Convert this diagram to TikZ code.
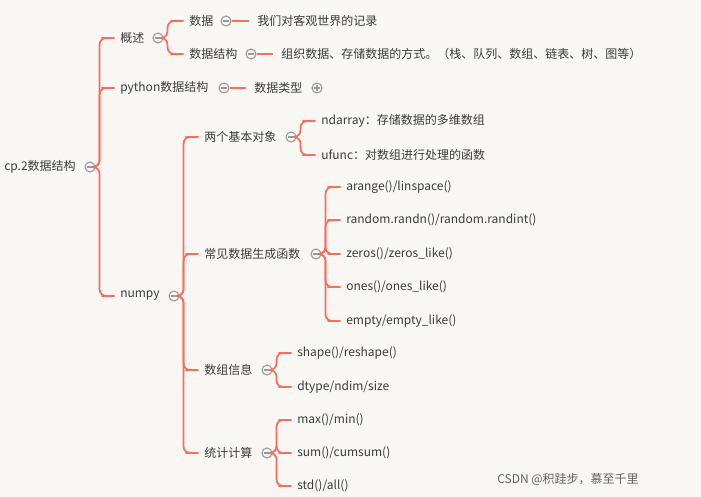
\documentclass[tikz,border=0pt]{standalone}
\usepackage{fontspec}
\setmainfont{Noto Sans CJK SC}
\usetikzlibrary{positioning}
\definecolor{bgpaper}{HTML}{F8F7F4}
\definecolor{branch}{HTML}{F86E5A}
\definecolor{ink}{HTML}{3C3C3C}
\definecolor{knob}{HTML}{9A9A9A}
\begin{document}
\begin{tikzpicture}[x=0.75pt,y=-0.75pt,
    topic/.style={anchor=west,inner sep=0pt,text=ink,font=\fontsize{9}{10}\selectfont},
    fold/.style={circle,draw=knob,line width=0.8pt,minimum size=7.5pt,inner sep=0pt,
      path picture={\draw[knob,line width=0.8pt] ([xshift=-2.2pt]path picture bounding box.center)--([xshift=2.2pt]path picture bounding box.center);}},
    unfold/.style={fold,path picture={\draw[knob,line width=0.8pt] ([xshift=-2.2pt]path picture bounding box.center)--([xshift=2.2pt]path picture bounding box.center)
      ([yshift=-2.2pt]path picture bounding box.center)--([yshift=2.2pt]path picture bounding box.center);}},
    link/.style={draw=branch,line width=1.3pt,rounded corners=5pt}]
  \fill[bgpaper] (0,0) rectangle (701,497);
  \useasboundingbox (0,0) rectangle (701,497);

  % root
  \node[topic] (root) at (4,167) {cp.2数据结构};
  \node[fold] (rootk) at (90,167) {};

  % first level
  \node[topic] (gaishu) at (120,38) {概述};
  \node[fold] (gaishuk) at (158,38) {};
  \node[topic] (pyds) at (120,88) {python数据结构};
  \node[fold] (pydsk) at (224,88) {};
  \node[topic] (numpy) at (120,296) {numpy};
  \node[fold] (numpyk) at (174,296) {};

  % 概述
  \node[topic] (shuju) at (189,21) {数据};
  \node[fold] (shujuk) at (226,21) {};
  \node[topic] (shujudef) at (257,21) {我们对客观世界的记录};
  \node[topic] (jiegou) at (189,54) {数据结构};
  \node[fold] (jiegouk) at (251,54) {};
  \node[topic] (jiegoudef) at (281,54) {组织数据、存储数据的方式。（栈、队列、数组、链表、树、图等）};

  % python
  \node[topic] (leixing) at (254,88) {数据类型};
  \node[unfold] (leixingk) at (317,88) {};

  % numpy
  \node[topic] (duixiang) at (204,137) {两个基本对象};
  \node[fold] (duixiangk) at (291,137) {};
  \node[topic] (ndarray) at (321,121) {ndarray：存储数据的多维数组};
  \node[topic] (ufunc) at (321,155) {ufunc：对数组进行处理的函数};

  \node[topic] (shengcheng) at (204,254) {常见数据生成函数};
  \node[fold] (shengchengk) at (316,254) {};
  \node[topic] (fa) at (346,187) {arange()/linspace()};
  \node[topic] (fb) at (346,220) {random.randn()/random.randint()};
  \node[topic] (fc) at (346,254) {zeros()/zeros\_like()};
  \node[topic] (fd) at (346,287) {ones()/ones\_like()};
  \node[topic] (fe) at (346,321) {empty/empty\_like()};

  \node[topic] (xinxi) at (204,370) {数组信息};
  \node[fold] (xinxik) at (267,370) {};
  \node[topic] (shape) at (297,353) {shape()/reshape()};
  \node[topic] (dtype) at (297,387) {dtype/ndim/size};

  \node[topic] (tongji) at (204,453) {统计计算};
  \node[fold] (tongjik) at (267,453) {};
  \node[topic] (smax) at (297,420) {max()/min()};
  \node[topic] (ssum) at (297,453) {sum()/cumsum()};
  \node[topic] (sstd) at (297,486) {std()/all()};

  % connectors
  \foreach \c in {gaishu,pyds,numpy}
    \draw[link] (rootk.east) -- ++(4,0) |- ([xshift=-9pt]\c.west) -- ++(1,0);
  \foreach \c in {shuju,jiegou}
    \draw[link] (gaishuk.east) -- ++(4,0) |- ([xshift=-9pt]\c.west) -- ++(1,0);
  \draw[link] (shujuk) -- ([xshift=-6pt]shujudef.west);
  \draw[link] (jiegouk) -- ([xshift=-6pt]jiegoudef.west);
  \draw[link] (pydsk) -- ([xshift=-6pt]leixing.west);
  \foreach \c in {duixiang,shengcheng,xinxi,tongji}
    \draw[link] (numpyk.east) -- ++(4,0) |- ([xshift=-9pt]\c.west) -- ++(1,0);
  \foreach \c in {ndarray,ufunc}
    \draw[link] (duixiangk.east) -- ++(4,0) |- ([xshift=-9pt]\c.west) -- ++(1,0);
  \foreach \c in {fa,fb,fc,fd,fe}
    \draw[link] (shengchengk.east) -- ++(4,0) |- ([xshift=-9pt]\c.west) -- ++(1,0);
  \foreach \c in {shape,dtype}
    \draw[link] (xinxik.east) -- ++(4,0) |- ([xshift=-9pt]\c.west) -- ++(1,0);
  \foreach \c in {smax,ssum,sstd}
    \draw[link] (tongjik.east) -- ++(4,0) |- ([xshift=-9pt]\c.west) -- ++(1,0);

  % watermark
  \node[topic,text=ink!80] (mark) at (497,479) {CSDN @积跬步，慕至千里};
\end{tikzpicture}
\end{document}
